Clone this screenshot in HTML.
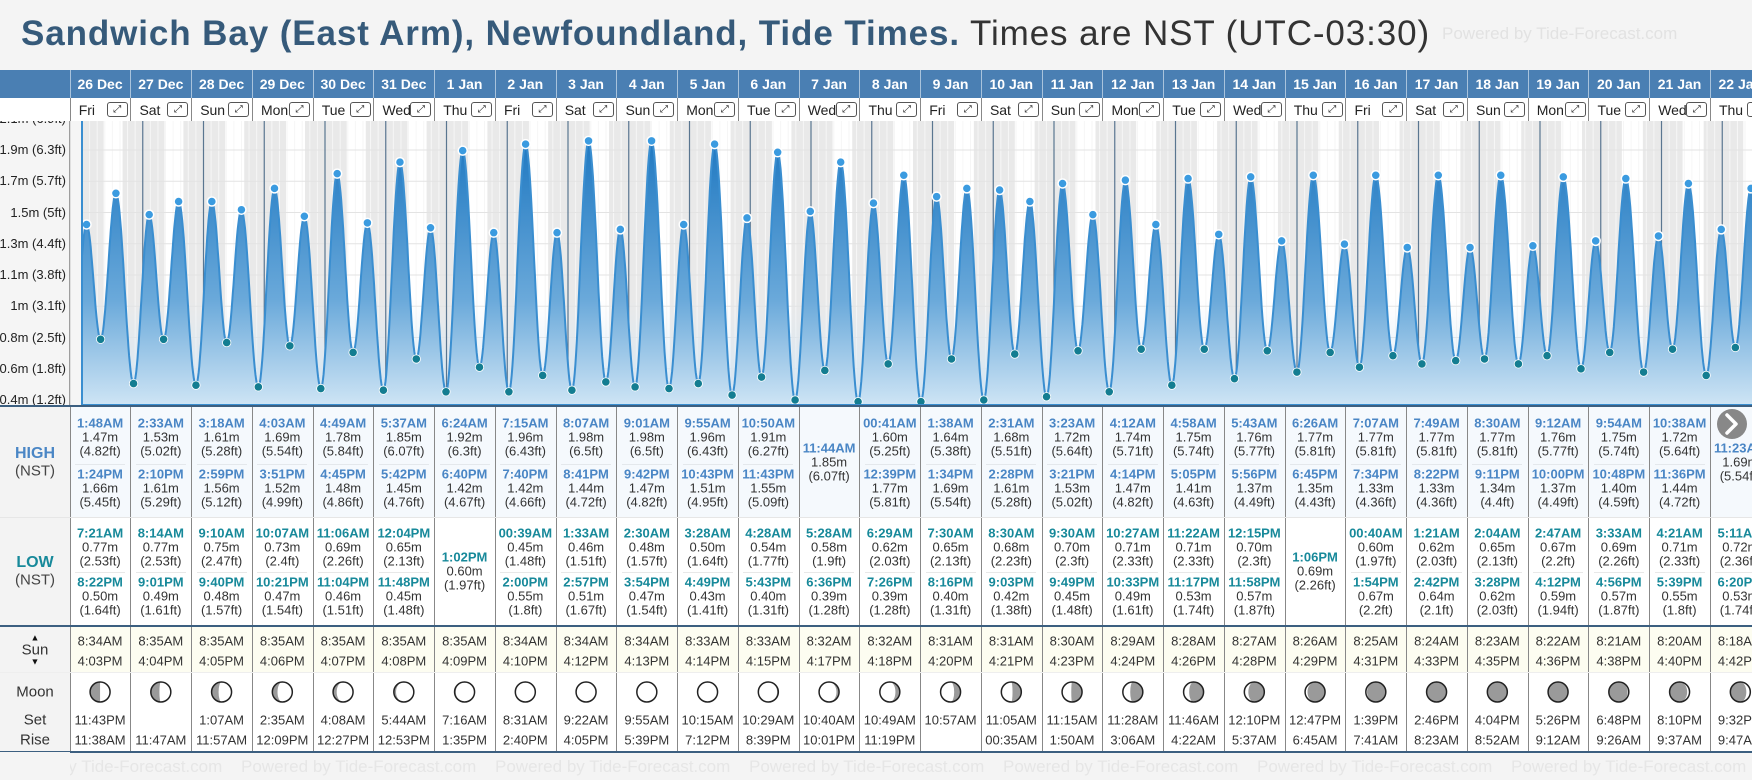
<!DOCTYPE html>
<html><head><meta charset="utf-8">
<style>
*{margin:0;padding:0;box-sizing:border-box}
body{width:1752px;height:780px;overflow:hidden;background:#f4f4f4;font-family:"Liberation Sans",sans-serif;position:relative}
.abs{position:absolute}
.t{position:absolute;white-space:nowrap;transform:translate(-50%,-50%);line-height:1}
</style></head>
<body>
<div class="abs" style="left:1442px;top:24px;font-size:17px;color:#e2e2e2;white-space:nowrap">Powered by Tide-Forecast.com</div>
<div class="abs" style="left:21px;top:14px;font-size:35px;letter-spacing:0.9px;white-space:nowrap;line-height:40px"><b style="color:#365a7a">Sandwich Bay (East Arm), Newfoundland, Tide Times.</b><span style="color:#333"> Times are NST (UTC-03:30)</span></div>
<div id="root"></div>
<script>
const days=["26 Dec","27 Dec","28 Dec","29 Dec","30 Dec","31 Dec","1 Jan","2 Jan","3 Jan","4 Jan","5 Jan","6 Jan","7 Jan","8 Jan","9 Jan","10 Jan","11 Jan","12 Jan","13 Jan","14 Jan","15 Jan","16 Jan","17 Jan","18 Jan","19 Jan","20 Jan","21 Jan","22 Jan"];
const dayNames=["Fri","Sat","Sun","Mon","Tue","Wed","Thu","Fri","Sat","Sun","Mon","Tue","Wed","Thu","Fri","Sat","Sun","Mon","Tue","Wed","Thu","Fri","Sat","Sun","Mon","Tue","Wed","Thu"];
const highTimes=[["1:48AM","1:24PM"],["2:33AM","2:10PM"],["3:18AM","2:59PM"],["4:03AM","3:51PM"],["4:49AM","4:45PM"],["5:37AM","5:42PM"],["6:24AM","6:40PM"],["7:15AM","7:40PM"],["8:07AM","8:41PM"],["9:01AM","9:42PM"],["9:55AM","10:43PM"],["10:50AM","11:43PM"],["11:44AM"],["00:41AM","12:39PM"],["1:38AM","1:34PM"],["2:31AM","2:28PM"],["3:23AM","3:21PM"],["4:12AM","4:14PM"],["4:58AM","5:05PM"],["5:43AM","5:56PM"],["6:26AM","6:45PM"],["7:07AM","7:34PM"],["7:49AM","8:22PM"],["8:30AM","9:11PM"],["9:12AM","10:00PM"],["9:54AM","10:48PM"],["10:38AM","11:36PM"],["11:23AM"]];
const highM=[[1.47,1.66],[1.53,1.61],[1.61,1.56],[1.69,1.52],[1.78,1.48],[1.85,1.45],[1.92,1.42],[1.96,1.42],[1.98,1.44],[1.98,1.47],[1.96,1.51],[1.91,1.55],[1.85],[1.60,1.77],[1.64,1.69],[1.68,1.61],[1.72,1.53],[1.74,1.47],[1.75,1.41],[1.76,1.37],[1.77,1.35],[1.77,1.33],[1.77,1.33],[1.77,1.34],[1.76,1.37],[1.75,1.40],[1.72,1.44],[1.69]];
const highFt=[["4.82","5.45"],["5.02","5.29"],["5.28","5.12"],["5.54","4.99"],["5.84","4.86"],["6.07","4.76"],["6.3","4.67"],["6.43","4.66"],["6.5","4.72"],["6.5","4.82"],["6.43","4.95"],["6.27","5.09"],["6.07"],["5.25","5.81"],["5.38","5.54"],["5.51","5.28"],["5.64","5.02"],["5.71","4.82"],["5.74","4.63"],["5.77","4.49"],["5.81","4.43"],["5.81","4.36"],["5.81","4.36"],["5.81","4.4"],["5.77","4.49"],["5.74","4.59"],["5.64","4.72"],["5.54"]];
const lowTimes=[["7:21AM","8:22PM"],["8:14AM","9:01PM"],["9:10AM","9:40PM"],["10:07AM","10:21PM"],["11:06AM","11:04PM"],["12:04PM","11:48PM"],["1:02PM"],["00:39AM","2:00PM"],["1:33AM","2:57PM"],["2:30AM","3:54PM"],["3:28AM","4:49PM"],["4:28AM","5:43PM"],["5:28AM","6:36PM"],["6:29AM","7:26PM"],["7:30AM","8:16PM"],["8:30AM","9:03PM"],["9:30AM","9:49PM"],["10:27AM","10:33PM"],["11:22AM","11:17PM"],["12:15PM","11:58PM"],["1:06PM"],["00:40AM","1:54PM"],["1:21AM","2:42PM"],["2:04AM","3:28PM"],["2:47AM","4:12PM"],["3:33AM","4:56PM"],["4:21AM","5:39PM"],["5:11AM","6:20PM"]];
const lowM=[[0.77,0.50],[0.77,0.49],[0.75,0.48],[0.73,0.47],[0.69,0.46],[0.65,0.45],[0.60],[0.45,0.55],[0.46,0.51],[0.48,0.47],[0.50,0.43],[0.54,0.40],[0.58,0.39],[0.62,0.39],[0.65,0.40],[0.68,0.42],[0.70,0.45],[0.71,0.49],[0.71,0.53],[0.70,0.57],[0.69],[0.60,0.67],[0.62,0.64],[0.65,0.62],[0.67,0.59],[0.69,0.57],[0.71,0.55],[0.72,0.53]];
const lowFt=[["2.53","1.64"],["2.53","1.61"],["2.47","1.57"],["2.4","1.54"],["2.26","1.51"],["2.13","1.48"],["1.97"],["1.48","1.8"],["1.51","1.67"],["1.57","1.54"],["1.64","1.41"],["1.77","1.31"],["1.9","1.28"],["2.03","1.28"],["2.13","1.31"],["2.23","1.38"],["2.3","1.48"],["2.33","1.61"],["2.33","1.74"],["2.3","1.87"],["2.26"],["1.97","2.2"],["2.03","2.1"],["2.13","2.03"],["2.2","1.94"],["2.26","1.87"],["2.33","1.8"],["2.36","1.74"]];
const prevLowTime="7:40PM", prevLowM=0.51;
const sunRise=["8:34AM","8:35AM","8:35AM","8:35AM","8:35AM","8:35AM","8:35AM","8:34AM","8:34AM","8:34AM","8:33AM","8:33AM","8:32AM","8:32AM","8:31AM","8:31AM","8:30AM","8:29AM","8:28AM","8:27AM","8:26AM","8:25AM","8:24AM","8:23AM","8:22AM","8:21AM","8:20AM","8:18AM"];
const sunSet=["4:03PM","4:04PM","4:05PM","4:06PM","4:07PM","4:08PM","4:09PM","4:10PM","4:12PM","4:13PM","4:14PM","4:15PM","4:17PM","4:18PM","4:20PM","4:21PM","4:23PM","4:24PM","4:26PM","4:28PM","4:29PM","4:31PM","4:33PM","4:35PM","4:36PM","4:38PM","4:40PM","4:42PM"];
const moonSet=["11:43PM","","1:07AM","2:35AM","4:08AM","5:44AM","7:16AM","8:31AM","9:22AM","9:55AM","10:15AM","10:29AM","10:40AM","10:49AM","10:57AM","11:05AM","11:15AM","11:28AM","11:46AM","12:10PM","12:47PM","1:39PM","2:46PM","4:04PM","5:26PM","6:48PM","8:10PM","9:32PM"];
const moonRise=["11:38AM","11:47AM","11:57AM","12:09PM","12:27PM","12:53PM","1:35PM","2:40PM","4:05PM","5:39PM","7:12PM","8:39PM","10:01PM","11:19PM","","00:35AM","1:50AM","3:06AM","4:22AM","5:37AM","6:45AM","7:41AM","8:23AM","8:52AM","9:12AM","9:26AM","9:37AM","9:47AM"];
const moonLit=[0.5,0.57,0.65,0.74,0.82,0.89,0.94,0.98,1,1,0.98,0.94,0.87,0.78,0.68,0.56,0.46,0.37,0.28,0.2,0.12,0.06,0.02,0,0.02,0.06,0.12,0.2];
const moonLitRight=[1,1,1,1,1,1,1,1,1,1,0,0,0,0,0,0,0,0,0,0,0,0,0,0,1,1,1,1];
const tickM=[2.1,1.9,1.7,1.5,1.3,1.1,1.0,0.8,0.6,0.4];
const tickLabels=["2.1m (6.9ft)","1.9m (6.3ft)","1.7m (5.7ft)","1.5m (5ft)","1.3m (4.4ft)","1.1m (3.8ft)","1m (3.1ft)","0.8m (2.5ft)","0.6m (1.8ft)","0.4m (1.2ft)"];

const TX0=69.7, DW=60.75, CX0=82, CT=121, CB=406;
const NS="http://www.w3.org/2000/svg";
function xAt(d,h){return CX0+(d+h/24)*DW}
function tickIdxY(i){return 400-(9-i)*31.25}
function yAt(m){return 400-(m-0.4)*31.25/0.1905}
function hrs(s){const pm=s.endsWith("PM");const [a,b]=s.slice(0,-2).split(":").map(Number);return (a%12)+(pm?12:0)+b/60}
const root=document.getElementById('root');
function div(x,y,w,h,bg,name){const e=document.createElement('div');e.className='abs';e.style.cssText=`left:${x}px;top:${y}px;width:${w}px;height:${h}px;background:${bg}`;


root.appendChild(e);return e}
function txt(x,y,s,css,name){const e=document.createElement('div');e.className='t';e.style.cssText=`left:${x}px;top:${y}px;${css}`;e.textContent=s;


root.appendChild(e);return e}
function sv(tag,attrs,parent){const e=document.createElementNS(NS,tag);for(const k in attrs)e.setAttribute(k,attrs[k]);parent.appendChild(e);return e}

div(0,70,1752,28,'#4a7fb3','date-header-row');
div(0,98,1752,23,'#fff','day-row');
div(0,121,1752,285,'#f5f5f5','chart-background');
div(0,406,1752,111,'#f5f9fd','high-section');
div(0,517,1752,109,'#fff','low-section');
div(0,626,1752,46,'#fdfdf1','sun-row');
div(0,672,1752,80,'#fff','moon-row');
div(0,752,1752,28,'#f4f4f4','footer');
div(0,406,69.7,346,'#f3f3f3','row-labels-column');
days.forEach((d,i)=>{
  const x=TX0+i*DW;
  txt(x+DW/2,84,d,'color:#fff;font-weight:bold;font-size:14px','date-label');
  div(x,70,1,28,'#a9c3dc','header-divider');
  div(x,98,1,23,'#888','day-divider');
  const dn=document.createElement('div');dn.className='abs';dn.style.cssText=`left:${x+9}px;top:102px;font-size:14px;color:#222;line-height:17px`;dn.textContent=dayNames[i];
  
  
  root.appendChild(dn);
  const b=document.createElement('div');b.className='abs';b.style.cssText=`left:${x+37}px;top:102px;width:21px;height:15px;border:1px solid #555;border-radius:3px;background:#fff;font-size:10px;line-height:13px;text-align:center;color:#222`;b.textContent='⤢';
  
  
  root.appendChild(b);
  div(x,406,1,346,'#888','column-divider');
});

const svg=document.createElementNS(NS,'svg');
svg.setAttribute('width',1752);svg.setAttribute('height',780);
svg.style.cssText='position:absolute;left:0;top:0';


root.appendChild(svg);
const defs=sv('defs',{},svg);
const cp=sv('clipPath',{id:'clip'},defs);sv('rect',{x:CX0,y:CT,width:1752-CX0,height:CB-CT},cp);
const g1=sv('linearGradient',{id:'fillg',x1:0,y1:140,x2:0,y2:406,gradientUnits:'userSpaceOnUse'},defs);
sv('stop',{offset:0,'stop-color':'#1f78c1'},g1);sv('stop',{offset:0.6,'stop-color':'#6aa9da'},g1);sv('stop',{offset:1,'stop-color':'#cfe5f5'},g1);
const g2=sv('linearGradient',{id:'bandg',x1:0,y1:0,x2:0,y2:1},defs);
sv('stop',{offset:0,'stop-color':'#dbeaf6','stop-opacity':0},g2);sv('stop',{offset:1,'stop-color':'#cfe4f4','stop-opacity':1},g2);
const cg=sv('g',{'clip-path':'url(#clip)'},svg);
sv('rect',{x:CX0,y:CT,width:1752-CX0,height:CB-CT,fill:'#ffffff'},cg);
for(let d=-1;d<=28;d++){
  const si=Math.max(0,Math.min(27,d));
  const r=hrs(sunRise[si]),s=hrs(sunSet[si]);
  const g=sv('rect',{x:xAt(d,0),y:CT,width:xAt(d,r)-xAt(d,0),height:CB-CT,fill:'#e9e9e9'},cg);
  
  sv('rect',{x:xAt(d,s),y:CT,width:xAt(d,24)-xAt(d,s),height:CB-CT,fill:'#e9e9e9'},cg);
  for(let h=3;h<24;h+=3)sv('line',{x1:xAt(d,h),x2:xAt(d,h),y1:CT,y2:CB,stroke:'#f6f6f6','stroke-width':1},cg);
}
tickM.forEach((m,i)=>{sv('line',{x1:CX0,x2:1752,y1:tickIdxY(i),y2:tickIdxY(i),stroke:'#e3e3e3','stroke-width':1},cg)});
sv('rect',{x:CX0,y:300,width:1752-CX0,height:106,fill:'url(#bandg)'},cg);
for(let d=1;d<=28;d++){const l=sv('line',{x1:xAt(d,0),x2:xAt(d,0),y1:CT,y2:CB,stroke:'#5a7690','stroke-width':1.2},cg);}
const ev=[{x:xAt(-1,hrs(prevLowTime)),m:prevLowM,t:'L'}];
days.forEach((d,i)=>{
  highTimes[i].forEach((t,j)=>ev.push({x:xAt(i,hrs(t)),m:highM[i][j],t:'H'}));
  lowTimes[i].forEach((t,j)=>ev.push({x:xAt(i,hrs(t)),m:lowM[i][j],t:'L'}));
});
ev.sort((a,b)=>a.x-b.x);
let pts=[];
for(let k=0;k<ev.length-1;k++){const a=ev[k],b=ev[k+1];for(let s=0;s<24;s++){const u=s/24;const m=a.m+(b.m-a.m)*(1-Math.cos(Math.PI*u))/2;pts.push([a.x+(b.x-a.x)*u,yAt(m)])}}
const last=ev[ev.length-1];pts.push([last.x,yAt(last.m)]);
pts.push([1760,yAt(last.m)-2]);
const line=pts.map((p,i)=>(i?'L':'M')+p[0].toFixed(1)+' '+p[1].toFixed(1)).join('');
const area=sv('path',{d:line+`L1760 ${CB}L${pts[0][0]} ${CB}Z`,fill:'url(#fillg)'},cg);

const curve=sv('path',{d:line,fill:'none',stroke:'#3a8ed0','stroke-width':2},cg);

ev.forEach(e=>{
  const c=sv('circle',{cx:e.x,cy:yAt(e.m),r:e.t==='H'?4.5:4.2,fill:e.t==='H'?'#3b9be0':'#137d91',stroke:'#fff','stroke-width':e.t==='H'?1.5:0.8},cg);
  
});
sv('line',{x1:CX0,x2:CX0,y1:CT,y2:CB,stroke:'#3a8ed0','stroke-width':2},svg);
sv('line',{x1:CX0,x2:1752,y1:CB-1,y2:CB-1,stroke:'#3a8ed0','stroke-width':2},svg);
sv('line',{x1:69.7,x2:69.7,y1:CT,y2:CB,stroke:'#888','stroke-width':1},svg);
const tc=document.createElement('div');tc.className='abs';tc.style.cssText='left:0;top:121px;width:69px;height:285px;overflow:hidden';


root.appendChild(tc);
tickLabels.forEach((s,i)=>{
  const e=document.createElement('div');e.className='abs';e.style.cssText=`right:3px;top:${tickIdxY(i)-121-8}px;font-size:13px;color:#222;white-space:nowrap;line-height:16px`;e.textContent=s;
  
  
  tc.appendChild(e);
});
div(0,405,1752,2,'#3c5f80','table-top-border');
div(0,625,1752,2,'#3c5f80','sun-top-border');
div(0,751,1752,2,'#3c5f80','table-bottom-border');
div(0,517,1752,1,'#e6e6e6','high-low-divider');
div(0,672,1752,1,'#eee','sun-moon-divider');
txt(35,454,'HIGH','font-weight:bold;font-size:16px;color:#4a86c5','high-label');
txt(35,471,'(NST)','font-size:15px;color:#444','high-tz-label');
txt(35,563,'LOW','font-weight:bold;font-size:16px;color:#17899a','low-label');
txt(35,580,'(NST)','font-size:15px;color:#444','low-tz-label');
txt(35,638,'▲','font-size:9px;color:#111','sunrise-arrow');
txt(35,650,'Sun','font-size:15px;color:#333','sun-label');
txt(35,662,'▼','font-size:9px;color:#111','sunset-arrow');
txt(35,692,'Moon','font-size:15px;color:#333','moon-label');
txt(35,720,'Set','font-size:15px;color:#333','moonset-label');
txt(35,740,'Rise','font-size:15px;color:#333','moonrise-label');
function block(cx,y,t,m,ft,col,name){
  txt(cx,y,t,`font-weight:bold;font-size:13px;color:${col}`,name+'-time');
  txt(cx,y+14,m.toFixed(2)+'m','font-size:13px;color:#333',name+'-height-m');
  txt(cx,y+28,'('+ft+'ft)','font-size:13px;color:#333',name+'-height-ft');
}
days.forEach((d,i)=>{
  const cx=TX0+i*DW+DW/2;
  if(highTimes[i].length===2){
    block(cx,423,highTimes[i][0],highM[i][0],highFt[i][0],'#4a86c5','high-tide');
    div(cx-25,464,50,1,'#e4e8ec','entry-divider');
    block(cx,474,highTimes[i][1],highM[i][1],highFt[i][1],'#4a86c5','high-tide');
  } else block(cx,448,highTimes[i][0],highM[i][0],highFt[i][0],'#4a86c5','high-tide');
  if(lowTimes[i].length===2){
    block(cx,533,lowTimes[i][0],lowM[i][0],lowFt[i][0],'#17899a','low-tide');
    div(cx-25,572,50,1,'#e8e8e8','entry-divider');
    block(cx,582,lowTimes[i][1],lowM[i][1],lowFt[i][1],'#17899a','low-tide');
  } else block(cx,557,lowTimes[i][0],lowM[i][0],lowFt[i][0],'#17899a','low-tide');
  txt(cx,641,sunRise[i],'font-size:13px;color:#333','sunrise-time');
  txt(cx,661,sunSet[i],'font-size:13px;color:#333','sunset-time');
  if(moonSet[i])txt(cx,720,moonSet[i],'font-size:13px;color:#333','moonset-time');
  if(moonRise[i])txt(cx,740,moonRise[i],'font-size:13px;color:#333','moonrise-time');
  const r=10,cy=692,f=moonLit[i],R=moonLitRight[i];
  const mc=sv('circle',{cx:cx,cy:cy,r:r,fill:'#9a9a9a'},svg);
  
  const rx=Math.abs(1-2*f)*r;
  const s1=R?1:0;
  const s2=(f>0.5)?s1:1-s1;
  if(f>0.005)sv('path',{d:`M${cx} ${cy-r}A${r} ${r} 0 0 ${s1} ${cx} ${cy+r}A${rx.toFixed(2)} ${r} 0 0 ${s2} ${cx} ${cy-r}Z`,fill:'#fff'},svg);
  sv('circle',{cx:cx,cy:cy,r:r,fill:'none',stroke:'#222','stroke-width':1.5},svg);
});
const nb=sv('g',{},svg);


sv('circle',{cx:1732,cy:424,r:15,fill:'#888'},nb);
sv('path',{d:'M1727 415L1736 424L1727 433',fill:'none',stroke:'#fff','stroke-width':3.5,'stroke-linecap':'round','stroke-linejoin':'round'},nb);
for(let k=0;k<7;k++){
  const x=-13+k*254;
  const e=document.createElement('div');e.className='abs';e.style.cssText=`left:${x}px;top:757px;font-size:17px;color:#e6e6e6;white-space:nowrap;line-height:20px`;e.textContent='Powered by Tide-Forecast.com';
  
  
  root.appendChild(e);
}
div(0,752,69.7,28,'#f4f4f4','footer-left');
</script>
</body></html>
